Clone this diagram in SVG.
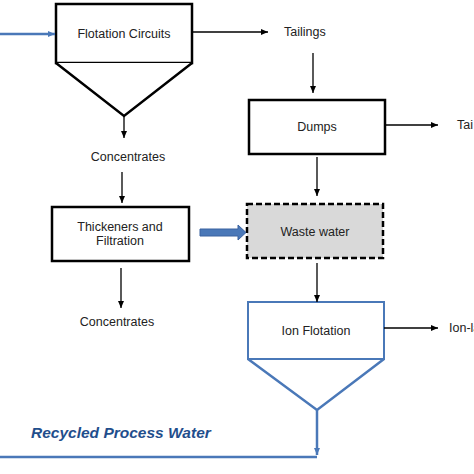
<svg xmlns="http://www.w3.org/2000/svg" width="474" height="474" viewBox="0 0 474 474">
<style>
text{font-family:"Liberation Sans",Arial,sans-serif;font-size:12.5px;fill:#222}
.k{fill:none;stroke:#000;stroke-width:1.3}
.b{fill:#fff;stroke:#000;stroke-width:2.5}
.bl{fill:none;stroke:#4a78b8;stroke-width:2.5}
.m{marker-end:url(#ah)}
</style>
<defs>
<marker id="ah" markerWidth="8" markerHeight="8" refX="7" refY="4" orient="auto" markerUnits="userSpaceOnUse"><path d="M0,1 L7,4 L0,7 Z" fill="#000"/></marker>
<marker id="ahb" markerWidth="8" markerHeight="8" refX="7" refY="4" orient="auto" markerUnits="userSpaceOnUse"><path d="M0,1 L7,4 L0,7 Z" fill="#4a78b8"/></marker>
</defs>
<rect width="474" height="474" fill="#fff"/>
<g id="flotation">
<rect class="b" x="56" y="4" width="136" height="59"/>
<path class="b" d="M56,63 L124,116 L192,63" fill="none"/>
<text x="124" y="38" text-anchor="middle">Flotation Circuits</text>
</g>
<g id="tailings"><text x="284" y="36">Tailings</text></g>
<g id="dumps">
<rect class="b" x="249" y="100" width="136" height="54"/>
<text x="317" y="131" text-anchor="middle">Dumps</text>
</g>
<g id="tailings2"><text x="457" y="129">Tai</text></g>
<g id="concentrates1"><text x="128" y="161" text-anchor="middle">Concentrates</text></g>
<g id="thickeners">
<rect class="b" x="52" y="207" width="137" height="54"/>
<text x="120" y="231" text-anchor="middle">Thickeners and</text>
<text x="120" y="245" text-anchor="middle">Filtration</text>
</g>
<g id="concentrates2"><text x="117" y="326" text-anchor="middle">Concentrates</text></g>
<g id="wastewater">
<rect x="247" y="204" width="136" height="54" fill="#d9d9d9" stroke="#000" stroke-width="2.5" stroke-dasharray="6,3"/>
<text x="315" y="236" text-anchor="middle">Waste water</text>
</g>
<g id="ionflotation">
<rect x="248" y="302" width="136" height="57" fill="#fff" stroke="#4a78b8" stroke-width="2"/>
<path class="bl" d="M248,359 L317,410 L384,359"/>
<text x="316" y="335" text-anchor="middle">Ion Flotation</text>
</g>
<g id="ionladen"><text x="449" y="332">Ion-la</text></g>
<g id="recycled"><text x="31" y="438" style="font-size:15.5px;font-weight:bold;font-style:italic;fill:#1f4e8c">Recycled Process Water</text></g>
<g id="connectors">
<line class="bl" x1="0" y1="34" x2="55" y2="34" stroke-width="2" marker-end="url(#ahb)"/>
<line class="k m" x1="192" y1="32" x2="268" y2="32"/>
<line class="k m" x1="313" y1="53" x2="313" y2="93"/>
<line class="k m" x1="385" y1="125" x2="438" y2="125"/>
<line class="k m" x1="317" y1="157" x2="317" y2="196"/>
<line class="k m" x1="124" y1="116" x2="124" y2="138"/>
<line class="k m" x1="122" y1="172" x2="122" y2="203"/>
<line class="k m" x1="121" y1="268" x2="121" y2="308"/>
<line class="k m" x1="317" y1="263" x2="317" y2="302"/>
<line class="k m" x1="384" y1="328" x2="438" y2="328"/>
<path d="M200,229 L238,229 L238,225 L246,232.5 L238,240 L238,236 L200,236 Z" fill="#4a78b8" stroke="#3a62a0" stroke-width="1"/>
<line class="bl" x1="317" y1="410" x2="317" y2="455" stroke-width="2" marker-end="url(#ahb)"/>
<line class="bl" x1="0" y1="457" x2="317" y2="457"/>
</g>
</svg>
